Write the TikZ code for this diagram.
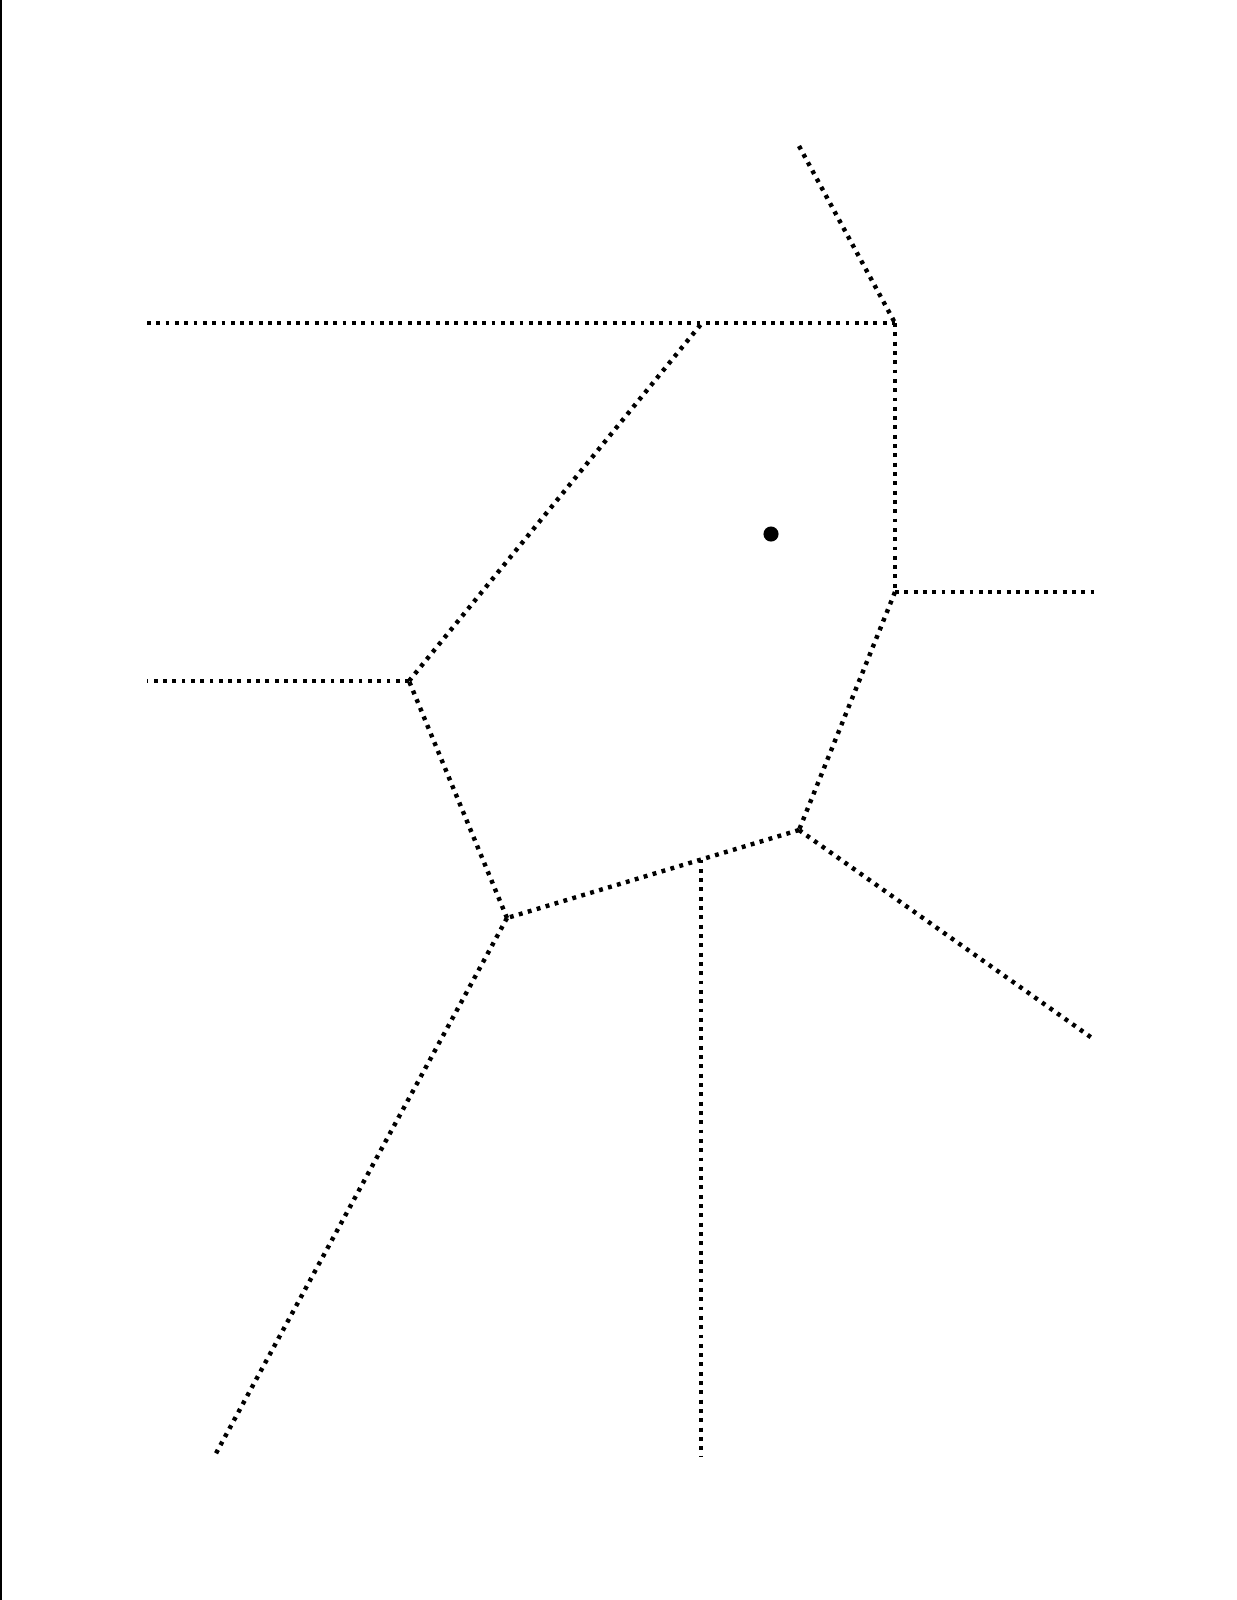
\documentclass[tikz,border=0pt]{standalone}
\usepackage{tikz}
\tikzstyle{cell_edge} = [line width=1.25pt, dash pattern=on 1.1pt off 1.55pt]
\tikzstyle{site_dot} = [circle, fill=black, inner sep=0pt, minimum size=4.3pt]
\tikzstyle{page_rule} = [line width=0.6pt]

\begin{document}
\begin{tikzpicture}[x=0.1mm, y=-0.1mm]
\useasboundingbox (0,0) rectangle (1236,1600);
\draw [page_rule] (1,0) -- (1,1600);

% Ecken der Zelle und freie Enden
\coordinate (top_end) at (799,146);
\coordinate (corner_ne) at (895,323);
\coordinate (corner_n) at (702,323);
\coordinate (left_end_a) at (147,323);
\coordinate (corner_e) at (895,592);
\coordinate (right_end_a) at (1094,592);
\coordinate (corner_se) at (799,830);
\coordinate (right_end_b) at (1092,1038);
\coordinate (corner_sw) at (507,918);
\coordinate (junction) at (701,859.5);
\coordinate (bottom_end_a) at (701,1456);
\coordinate (bottom_end_b) at (214,1457);
\coordinate (corner_w) at (409,681);
\coordinate (left_end_b) at (147,681);
\node (site) [site_dot] at (771,534) {};

% Kanten
\draw [cell_edge] (top_end) -- (corner_ne);
\draw [cell_edge] (left_end_a) -- (corner_ne);
\draw [cell_edge] (corner_ne) -- (corner_e);
\draw [cell_edge] (corner_e) -- (right_end_a);
\draw [cell_edge] (corner_e) -- (corner_se);
\draw [cell_edge] (corner_se) -- (right_end_b);
\draw [cell_edge] (corner_se) -- (corner_sw);
\draw [cell_edge] (junction) -- (bottom_end_a);
\draw [cell_edge] (corner_sw) -- (bottom_end_b);
\draw [cell_edge] (corner_sw) -- (corner_w);
\draw [cell_edge] (corner_w) -- (left_end_b);
\draw [cell_edge] (corner_w) -- (corner_n);
\end{tikzpicture}
\end{document}
